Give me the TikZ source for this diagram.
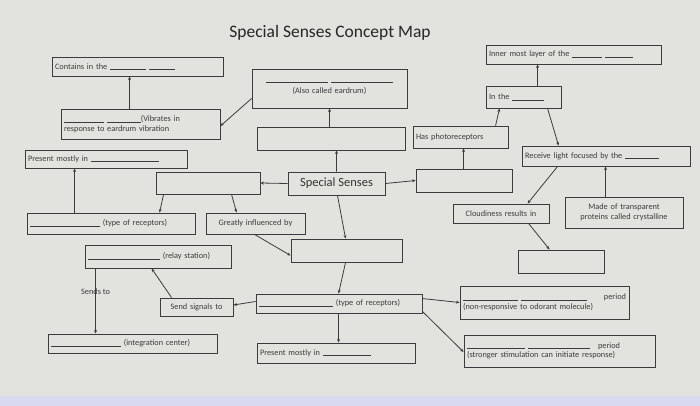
\documentclass[tikz,border=0pt]{standalone}
\usepackage{fontspec}
\setmainfont{Carlito}
\usetikzlibrary{arrows.meta}
\definecolor{paper}{RGB}{226,226,222}
\definecolor{ink}{RGB}{60,60,62}
\newcommand\blank[1]{\rule[-0.5pt]{#1pt}{0.5pt}}
\tikzset{
  box/.style={draw=ink, line width=0.9pt, fill=paper, inner sep=2pt, text=ink,
    font=\fontsize{8.3}{9.5}\selectfont},
  arr/.style={draw=ink, line width=0.8pt, -{Stealth[length=3.5pt,width=3pt]}}
}
% name, x1, y1, x2, y2, align, text
\newcommand\bx[7]{\node[box, minimum width={(#4-#2)*1pt}, minimum height={(#5-#3)*1pt},
  text width={(#4-#2-6)*1pt}, align=#6] (#1) at ({(#2+#4)/2},{(#3+#5)/2}) {#7};}
\begin{document}
\begin{tikzpicture}[x=1pt,y=-1pt]
\fill[paper] (0,0) rectangle (700,406);
\fill[gray!50!blue!20] (0,396) rectangle (700,406);
\useasboundingbox (0,0) rectangle (700,406);
\node[text=black!85, font=\fontsize{17.5}{20}\selectfont] (title) at (330,33) {Special Senses Concept Map};
\bx{cont}{52}{57}{223}{76}{left}{Contains in the \blank{36} \blank{26}}
\bx{vib}{61}{109}{220}{139}{left}{\blank{40} \blank{34}(Vibrates in\\response to eardrum vibration}
\bx{pres1}{25}{150}{187}{168}{left}{Present mostly in \blank{68}}
\bx{lm}{156}{172}{260}{194}{left}{}
\bx{tor1}{27}{213}{195}{234}{left}{\blank{70} (type of receptors)}
\bx{great}{206}{213}{305}{234}{center}{Greatly influenced by}
\bx{ear}{252}{69}{407}{108}{center}{\blank{62} \blank{62}\\[2pt](Also called eardrum)}
\bx{ue}{257}{127}{405}{150}{left}{}
\node[box, font=\fontsize{12.5}{14}\selectfont, minimum width=97pt, minimum height=23pt, text=black!80] (ss) at (336.5,183.5) {Special Senses};
\bx{bc}{291}{239}{402}{262}{left}{}
\bx{inner}{486}{45}{661}{64}{left}{Inner most layer of the \blank{30} \blank{28}}
\bx{inthe}{486}{86}{561}{108}{left}{In the \blank{32}}
\bx{photo}{413}{126}{508}{148}{left}{Has photoreceptors}
\bx{re}{416}{169}{512}{192}{left}{}
\bx{recv}{522}{146}{690}{166}{left}{Receive light focused by the \blank{34}}
\bx{cloud}{453}{204}{549}{223}{center}{Cloudiness results in}
\bx{made}{565}{197}{683}{228}{center}{Made of transparent\\proteins called crystalline}
\bx{br}{518}{250}{604}{273}{left}{}
\bx{nonr}{460}{286}{629}{319}{left}{\blank{55} \blank{66} \hfill period\\(non-responsive to odorant molecule)}
\bx{strong}{464}{335}{655}{367}{left}{\blank{58} \blank{62} \ \ period\\(stronger stimulation can initiate response)}
\bx{tor2}{256}{294}{422}{313}{left}{\blank{74} (type of receptors)}
\bx{pres2}{257}{343}{415}{363}{left}{Present mostly in \blank{48}}
\bx{send}{160}{298}{233}{316}{center}{Send signals to}
\bx{relay}{85}{245}{231}{268}{left}{\blank{72} (relay station)}
\bx{integ}{48}{334}{217}{353}{left}{\blank{70} (integration center)}
% connectors
\draw[arr] ([xshift=69pt]vib.north west) -- ([xshift=78pt]cont.south west);
\draw[arr] ([yshift=-10pt]ear.west) -- ([yshift=-2pt]vib.east);
\draw[arr] ([xshift=73pt]ue.north west) -- ([xshift=78pt]ear.south west);
\draw[arr] (ss.north) -- ([xshift=80pt]ue.south west);
\draw[arr] (ss.west) -- (lm.east);
\draw[arr] (ss.east) -- (re.west);
\draw[arr] ([xshift=1pt]ss.south) -- ([xshift=55pt]bc.north west);
\draw[arr] ([xshift=8pt]lm.south west) -- ([xshift=133pt]tor1.north west);
\draw[arr] ([xshift=76pt]lm.south west) -- ([xshift=31pt]great.north west);
\draw[arr] ([xshift=48pt]tor1.north west) -- ([xshift=50pt]pres1.south west);
\draw[arr] ([xshift=49pt]great.south west) -- ([yshift=-5pt]bc.west);
\draw[arr] ([xshift=55pt]bc.south west) -- ([xshift=83pt]tor2.north west);
\draw[arr] ([yshift=2pt]tor2.west) -- ([yshift=2pt]send.east);
\draw[arr] ([xshift=12pt]send.north west) -- ([xshift=67pt]relay.south west);
\draw[arr] ([xshift=11pt]relay.south west) -- node[pos=0.36, text=ink, font=\fontsize{8.3}{9.5}\selectfont, inner sep=0pt] {Sends to} ([xshift=48pt]integ.north west);
\draw[arr] ([xshift=83pt]tor2.south west) -- ([xshift=82pt]pres2.north west);
\draw[arr] ([yshift=-5pt]tor2.north east) -- (nonr.west);
\draw[arr] ([yshift=2pt]tor2.south east) -- ([yshift=-1pt]strong.west);
\draw[arr] ([xshift=48pt]re.north west) -- ([xshift=51pt]photo.south west);
\draw[arr] ([xshift=83pt]photo.north west) -- ([xshift=14pt]inthe.south west);
\draw[arr] ([xshift=52pt]inthe.north west) -- ([xshift=52pt]inner.south west);
\draw[arr] ([xshift=62pt]inthe.south west) -- ([xshift=37pt]recv.north west);
\draw[arr] ([xshift=36pt]recv.south west) -- ([xshift=75pt]cloud.north west);
\draw[arr] ([xshift=41pt]made.north west) -- ([xshift=84pt]recv.south west);
\draw[arr] ([xshift=76pt]cloud.south west) -- ([xshift=32pt]br.north west);
\end{tikzpicture}
\end{document}
